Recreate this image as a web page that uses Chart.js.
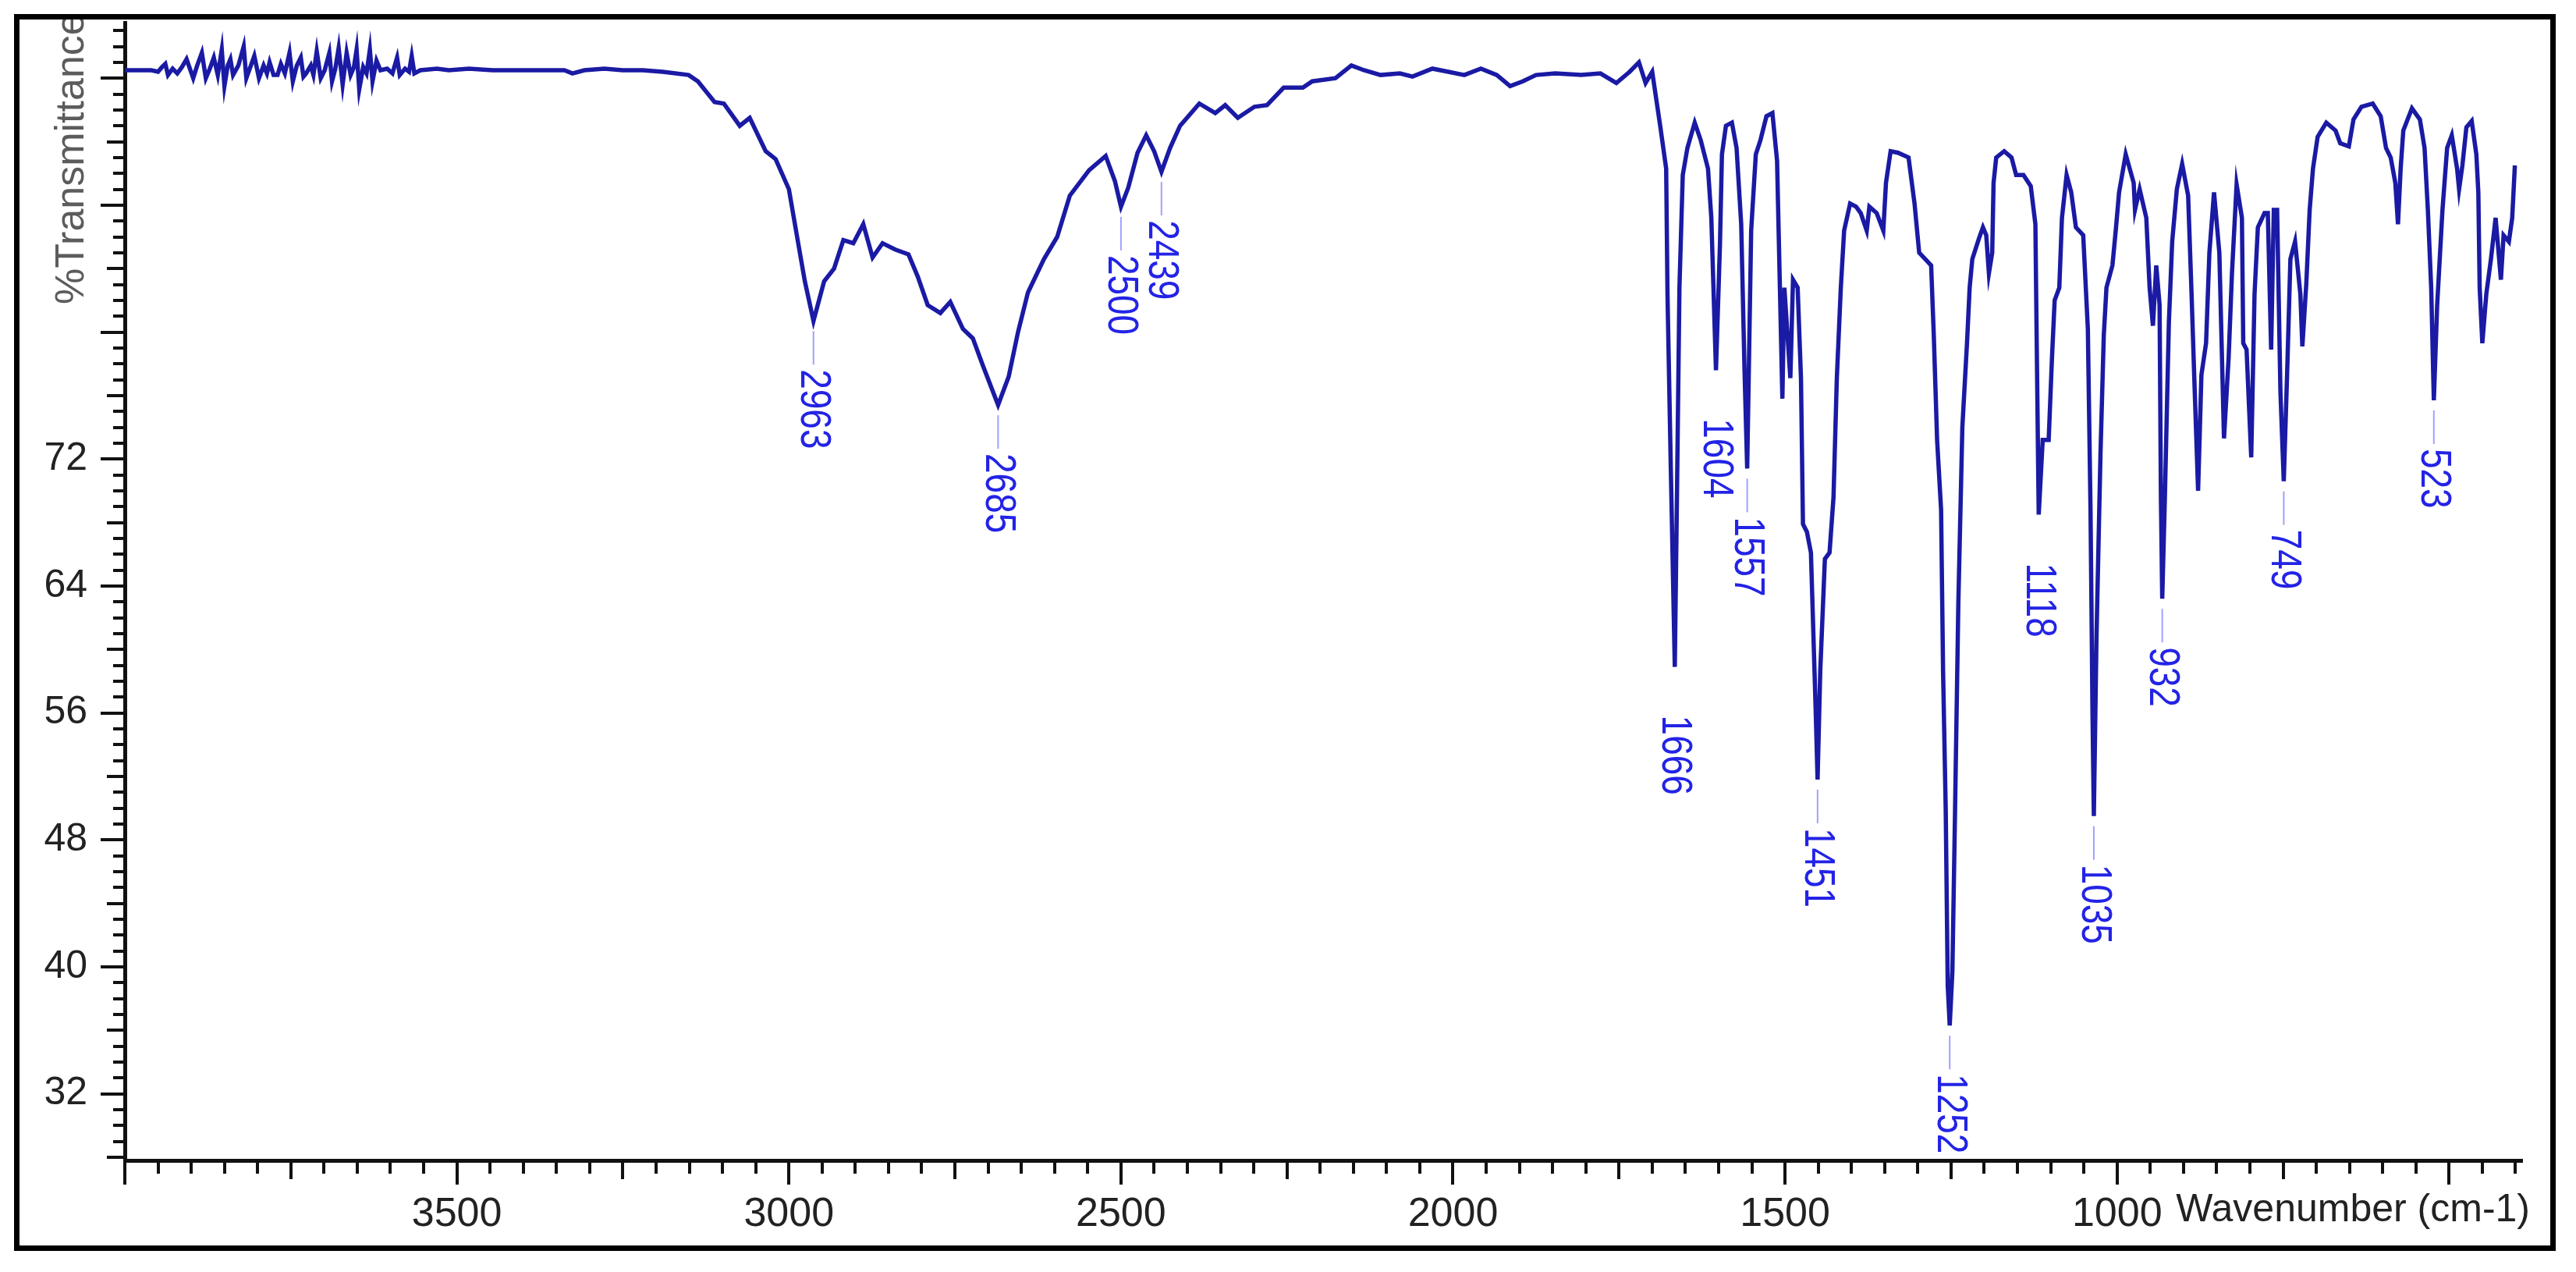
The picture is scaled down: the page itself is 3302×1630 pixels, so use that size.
<!DOCTYPE html>
<html>
<head>
<meta charset="utf-8">
<script src="https://cdn.jsdelivr.net/npm/chart.js@4.4.1/dist/chart.umd.min.js"></script>
<style>
  html, body { margin: 0; padding: 0; background: #fff; }
  #wrap { position: relative; width: 3302px; height: 1630px; }
</style>
</head>
<body>
<div id="wrap"><canvas id="irChart"></canvas></div>
<script>
// spectrum (cm-1 / %T)
const wavenumber = [
  4000, 3960, 3950, 3944, 3939, 3935, 3928, 3921, 3914, 3907,
  3897, 3891, 3884, 3878, 3872, 3866, 3860, 3854, 3850, 3845,
  3841, 3837, 3829, 3821, 3817, 3811, 3805, 3798, 3791, 3786,
  3782, 3776, 3770, 3765, 3759, 3752, 3747, 3741, 3735, 3731,
  3727, 3720, 3716, 3711, 3705, 3699, 3692, 3688, 3683, 3678,
  3672, 3666, 3660, 3655, 3651, 3647, 3641, 3636, 3631, 3627,
  3621, 3615, 3605, 3597, 3590, 3586, 3578, 3572, 3568, 3564,
  3555, 3530, 3512, 3482, 3446, 3398, 3338, 3326, 3308, 3278,
  3250, 3220, 3190, 3151, 3137, 3112,
  3098, 3074, 3059, 3035, 3020, 3000, 2986, 2976, 2963, 2947,
  2932, 2918, 2903, 2888, 2874, 2859, 2840, 2820, 2806, 2791,
  2772, 2757, 2738, 2723, 2708, 2685, 2669, 2655, 2640, 2616,
  2596, 2577, 2548, 2523, 2509, 2500, 2489, 2475, 2462, 2450,
  2439, 2426, 2411, 2382, 2358, 2343, 2324, 2299, 2280, 2255,
  2226, 2212, 2177, 2153, 2134, 2109, 2080, 2061, 2031, 2007,
  1983, 1958, 1934, 1914, 1895, 1875, 1846, 1807, 1778, 1754,
  1734, 1720, 1710, 1700, 1688, 1679, 1677, 1672, 1666, 1663,
  1659, 1654, 1647, 1636, 1627, 1616, 1611, 1604, 1598, 1595,
  1589, 1580, 1573, 1566, 1561, 1557, 1551, 1544, 1537, 1528,
  1519, 1512, 1508, 1504, 1501, 1492, 1488, 1481, 1476, 1473,
  1467, 1461, 1454, 1451, 1447, 1440, 1433, 1427, 1422, 1416,
  1411, 1402, 1393, 1386, 1377, 1373, 1362, 1352, 1348, 1341,
  1330, 1314, 1305, 1298, 1289, 1280, 1276, 1271, 1265, 1262,
  1258, 1255, 1252, 1248, 1244, 1239, 1233, 1226, 1222, 1218,
  1208, 1202, 1197, 1193, 1188, 1186, 1182, 1170, 1159, 1152,
  1141, 1130, 1123, 1121, 1118, 1112, 1103, 1098, 1094, 1087,
  1083, 1076, 1069, 1062, 1051, 1044, 1040, 1037, 1035, 1031,
  1025, 1020, 1016, 1007, 1002, 997, 987, 975, 973, 966,
  956, 951, 946, 941, 936, 934, 932, 928, 922, 917,
  910, 902, 893, 888, 883, 878, 873, 866, 861, 854,
  846, 839, 832, 827, 820, 812, 810, 805, 798, 793,
  788, 778, 773, 768, 764, 759, 754, 749, 744, 739,
  732, 724, 721, 715, 710, 705, 698, 685, 671, 664,
  651, 644, 632, 615, 603, 595, 588, 581, 577, 573,
  569, 556, 544, 537, 532, 527, 523, 518, 510, 503,
  496, 488, 485, 480, 474, 466, 459, 456, 454, 450,
  444, 437, 430, 422, 418, 410, 405, 401
];
const transmittance = [
  96.5, 96.5, 96.4, 96.7, 96.9, 96.2, 96.6, 96.3, 96.7, 97.2,
  96.0, 96.8, 97.6, 96.0, 96.6, 97.3, 96.2, 97.8, 95.5, 96.8,
  97.2, 96.2, 96.8, 98.0, 96.0, 96.7, 97.4, 96.0, 96.8, 96.3,
  97.0, 96.2, 96.2, 96.9, 96.3, 97.6, 95.8, 96.8, 97.3, 96.1,
  96.3, 96.8, 96.2, 97.7, 96.0, 96.5, 97.6, 95.8, 96.6, 97.9,
  95.6, 97.6, 96.2, 96.7, 97.8, 95.3, 96.7, 96.3, 97.8, 95.8,
  97.1, 96.5, 96.6, 96.3, 97.3, 96.2, 96.6, 96.4, 97.4, 96.3,
  96.5, 96.6, 96.5, 96.6, 96.5, 96.5, 96.5, 96.3, 96.5, 96.6,
  96.5, 96.5, 96.4, 96.2, 95.8, 94.5,
  94.4, 93.0, 93.5, 91.4, 90.9, 89.0, 85.6, 83.2, 80.7, 83.2,
  84.0, 85.8, 85.6, 86.8, 84.7, 85.6, 85.2, 84.9, 83.5, 81.7,
  81.2, 81.9, 80.2, 79.6, 77.9, 75.4, 77.2, 80.0, 82.5, 84.6,
  86.0, 88.6, 90.2, 91.1, 89.5, 87.9, 89.1, 91.3, 92.4, 91.4,
  90.1, 91.6, 93.0, 94.4, 93.8, 94.3, 93.5, 94.2, 94.3, 95.4,
  95.4, 95.8, 96.0, 96.8, 96.5, 96.2, 96.3, 96.1, 96.6, 96.4,
  96.2, 96.6, 96.2, 95.5, 95.8, 96.2, 96.3, 96.2, 96.3, 95.7,
  96.4, 97.0, 95.7, 96.4, 93.0, 90.3, 82.4, 71.4, 58.9, 68.8,
  82.8, 89.9, 91.6, 93.2, 92.1, 90.3, 87.2, 77.6, 85.5, 91.2,
  93.0, 93.2, 91.6, 86.8, 77.6, 71.4, 86.4, 91.2, 92.1, 93.6,
  93.8, 90.8, 83.3, 75.8, 82.8, 77.1, 83.3, 82.8, 77.1, 67.9,
  67.4, 66.1, 56.4, 51.8, 58.6, 65.7, 66.1, 69.6, 77.1, 82.8,
  86.4, 88.1, 87.9, 87.5, 86.4, 87.9, 87.5, 86.4, 89.4, 91.4,
  91.3, 91.0, 88.1, 85.0, 84.6, 84.2, 79.8, 73.2, 68.8, 58.6,
  49.8, 38.8, 36.3, 39.7, 49.8, 63.0, 74.0, 79.3, 82.8, 84.6,
  85.9, 86.6, 86.1, 83.7, 85.0, 89.4, 91.0, 91.4, 91.0, 89.9,
  89.9, 89.2, 86.8, 79.3, 68.5, 73.2, 73.2, 78.4, 82.0, 82.8,
  87.2, 89.9, 88.8, 86.6, 86.1, 80.2, 68.8, 56.0, 49.5, 60.8,
  72.3, 79.8, 82.8, 84.2, 86.4, 88.8, 91.2, 89.4, 87.7, 89.0,
  87.2, 82.8, 80.4, 84.2, 81.7, 69.6, 63.2, 69.6, 80.6, 85.7,
  89.0, 90.6, 88.6, 82.6, 76.2, 70.0, 77.3, 79.3, 85.0, 88.8,
  85.0, 73.3, 78.4, 83.7, 89.3, 87.2, 79.3, 78.9, 72.1, 82.4,
  86.6, 87.5, 87.5, 78.9, 87.7, 87.7, 76.2, 70.6, 77.3, 84.6,
  85.7, 82.4, 79.1, 83.1, 87.7, 90.3, 92.3, 93.2, 92.7, 91.9,
  91.7, 93.4, 94.2, 94.4, 93.6, 91.6, 91.0, 89.4, 86.8, 90.3,
  92.7, 94.1, 93.4, 91.6, 87.7, 82.8, 75.7, 81.7, 87.7, 91.6,
  92.4, 90.3, 89.0, 90.5, 92.9, 93.3, 91.2, 88.8, 82.8, 79.3,
  82.4, 84.6, 87.2, 83.3, 86.1, 85.7, 87.2, 90.5
];

const peakWavenumbers = [2963, 2685, 2500, 2439, 1666, 1604, 1557, 1451, 1252, 1118, 1035, 932, 749, 523];
const peakLabels = ['2963', '2685', '2500', '2439', '1666', '1604', '1557', '1451', '1252', '1118', '1035', '932', '749', '523'];

const xTickLabels = [3500, 3000, 2500, 2000, 1500, 1000];
const yTickLabels = [72, 64, 56, 48, 40, 32];

const xTitle = 'Wavenumber (cm-1)';
const yTitle = '%Transmittance';

const FONT = '"Liberation Sans", Arial, sans-serif';

// lowest %T near a labelled peak
function troughAt(w) {
  let best = Infinity;
  for (let i = 0; i < wavenumber.length; i++) {
    if (Math.abs(wavenumber[i] - w) <= 6 && transmittance[i] < best) best = transmittance[i];
  }
  return best;
}

const noLeader = new Set(['1666', '1604', '1118']);

const peakLabelPlugin = {
  id: 'peakLabels',
  afterDatasetsDraw(chart) {
    const ctx = chart.ctx;
    const x = chart.scales.x, y = chart.scales.y;
    ctx.save();
    ctx.font = '56px ' + FONT;
    ctx.fillStyle = '#2323e6';
    ctx.strokeStyle = '#a0a0ff';
    ctx.lineWidth = 2;
    for (let i = 0; i < peakWavenumbers.length; i++) {
      const px = x.getPixelForValue(peakWavenumbers[i]);
      const py = y.getPixelForValue(troughAt(peakWavenumbers[i]));
      if (!noLeader.has(peakLabels[i])) {
        ctx.beginPath();
        ctx.moveTo(px, py + 13);
        ctx.lineTo(px, py + 56);
        ctx.stroke();
      }
      ctx.save();
      ctx.translate(px, py + 62);
      ctx.rotate(Math.PI / 2);
      ctx.scale(0.82, 1);
      ctx.textAlign = 'left';
      ctx.textBaseline = 'middle';
      ctx.fillText(peakLabels[i], 0, 0);
      ctx.restore();
    }
    ctx.restore();
  }
};

// tick marks of three lengths, axis titles and the outer frame
const decorPlugin = {
  id: 'decor',
  afterDraw(chart) {
    const ctx = chart.ctx;
    const area = chart.chartArea;
    const x = chart.scales.x, y = chart.scales.y;
    ctx.save();
    ctx.strokeStyle = '#111';
    ctx.lineWidth = 4;
    for (let v = 400; v <= 4000; v += 50) {
      const len = v % 500 === 0 ? 31 : (v % 250 === 0 ? 24 : 17);
      const px = Math.round(x.getPixelForValue(v));
      ctx.beginPath();
      ctx.moveTo(px, area.bottom);
      ctx.lineTo(px, area.bottom + len);
      ctx.stroke();
    }
    for (let v = Math.ceil(y.min); v <= Math.floor(y.max); v++) {
      const len = v % 8 === 0 ? 31 : (v % 4 === 0 ? 23 : 15);
      const py = Math.round(y.getPixelForValue(v));
      ctx.beginPath();
      ctx.moveTo(area.left, py);
      ctx.lineTo(area.left - len, py);
      ctx.stroke();
    }

    ctx.font = '50px ' + FONT;
    ctx.fillStyle = '#222';
    ctx.textAlign = 'right';
    ctx.textBaseline = 'top';
    ctx.fillText(xTitle, area.right + 10, area.bottom + 39);

    ctx.save();
    ctx.beginPath();
    ctx.rect(0, 25, 3302, 1570);
    ctx.clip();
    ctx.translate(93, 390);
    ctx.rotate(-Math.PI / 2);
    ctx.font = '52px ' + FONT;
    ctx.fillStyle = '#5c5c5c';
    ctx.textAlign = 'left';
    ctx.textBaseline = 'middle';
    ctx.fillText(yTitle, 0, 0);
    ctx.restore();

    ctx.strokeStyle = '#000';
    ctx.lineWidth = 7;
    ctx.strokeRect(21.5, 21.5, 3251, 1578);
    ctx.restore();
  }
};

const points = wavenumber.map((w, i) => ({ x: w, y: transmittance[i] }));

new Chart(document.getElementById('irChart'), {
  type: 'line',
  data: {
    datasets: [{
      data: points,
      borderColor: '#1a1aa4',
      borderWidth: 5.5,
      pointRadius: 0,
      tension: 0,
      fill: false
    }]
  },
  options: {
    responsive: true,
    maintainAspectRatio: false,
    devicePixelRatio: 1,
    animation: false,
    layout: { padding: { top: 29, right: 69, left: 0, bottom: 0 } },
    plugins: { legend: { display: false }, tooltip: { enabled: false } },
    scales: {
      x: {
        type: 'linear',
        reverse: true,
        min: 390,
        max: 4000,
        afterBuildTicks: (s) => { s.ticks = xTickLabels.map((v) => ({ value: v })); },
        afterFit: (s) => { s.height = 143; s.paddingLeft = 0; s.paddingRight = 0; },
        border: { display: true, color: '#111', width: 5 },
        grid: { display: true, drawOnChartArea: false, drawTicks: true, tickLength: 31, tickColor: 'rgba(0,0,0,0)' },
        ticks: {
          autoSkip: false,
          maxRotation: 0,
          padding: 7,
          color: '#222',
          font: { family: FONT, size: 52 },
          callback: (v) => String(v)
        }
      },
      y: {
        type: 'linear',
        min: 27.8,
        max: 99.5,
        afterBuildTicks: (s) => { s.ticks = yTickLabels.map((v) => ({ value: v })); },
        afterFit: (s) => { s.width = 160; s.paddingTop = 0; s.paddingBottom = 0; },
        border: { display: true, color: '#111', width: 5 },
        grid: { display: true, drawOnChartArea: false, drawTicks: true, tickLength: 31, tickColor: 'rgba(0,0,0,0)' },
        ticks: {
          autoSkip: false,
          padding: 17,
          color: '#222',
          font: { family: FONT, size: 50 },
          callback: (v) => String(v)
        }
      }
    }
  },
  plugins: [peakLabelPlugin, decorPlugin]
});
</script>
</body>
</html>
